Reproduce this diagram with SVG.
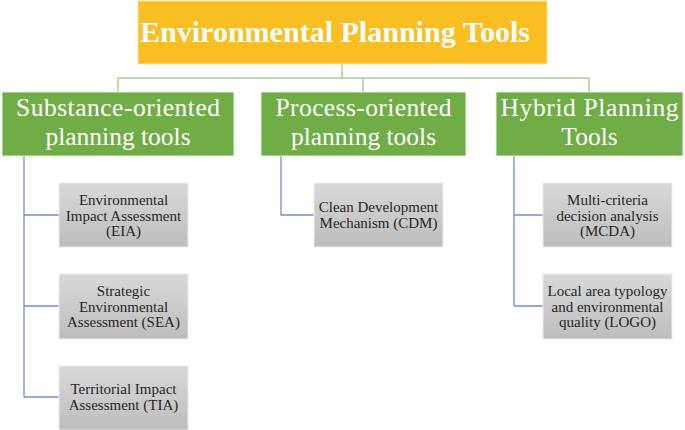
<svg xmlns="http://www.w3.org/2000/svg" width="685" height="430" viewBox="0 0 685 430">
<defs>
<linearGradient id="gray" x1="0" y1="0" x2="0" y2="1">
<stop offset="0" stop-color="#d8d8d8"/>
<stop offset="1" stop-color="#bdbdbd"/>
</linearGradient>
<style>
.title{font-family:"Liberation Serif","Times New Roman",serif;font-weight:bold;font-size:30px;fill:#ffffff}
.cat{font-family:"Liberation Serif","Times New Roman",serif;font-size:25.5px;fill:#ffffff;text-anchor:middle}
.leaf{font-family:"Liberation Serif","Times New Roman",serif;font-size:15px;fill:#262626;text-anchor:middle}
.gbox{fill:#70ad47;stroke:#e6f0de;stroke-width:1}
.lbox{fill:url(#gray);stroke:#ececec;stroke-width:1}
.gline{fill:none;stroke:#a9d18e;stroke-width:1.5}
.bline{fill:none;stroke:#6f8fd8;stroke-width:1.3}
</style>
</defs>
<rect width="685" height="430" fill="#ffffff"/>
<g id="connectors">
<path class="gline" d="M342 64 V78 M118 78 H589 M118 78 V92 M363 78 V92 M589 78 V92"/>
<path class="bline" d="M24 156 V397 M24 215 H59 M24 306 H59 M24 397 H59"/>
<path class="bline" d="M281 156 V215 H314"/>
<path class="bline" d="M514 156 V306 M514 215 H543 M514 306 H543"/>
</g>
<g id="root">
<rect x="138" y="1" width="409" height="63" fill="#f8be22" stroke="#fbe3a0" stroke-width="1"/>
<text class="title" x="140" y="42" textLength="390" lengthAdjust="spacing">Environmental Planning Tools</text>
</g>
<g id="substance">
<rect class="gbox" x="2" y="92" width="232" height="64"/>
<text class="cat" x="118" y="116" textLength="204" lengthAdjust="spacing">Substance-oriented</text>
<text class="cat" x="118" y="144.5">planning tools</text>
</g>
<g id="process">
<rect class="gbox" x="261" y="92" width="205" height="64"/>
<text class="cat" x="363.5" y="116" textLength="176" lengthAdjust="spacing">Process-oriented</text>
<text class="cat" x="363.5" y="144.5">planning tools</text>
</g>
<g id="hybrid">
<rect class="gbox" x="496" y="92" width="187" height="64"/>
<text class="cat" x="589.5" y="116" textLength="178" lengthAdjust="spacing">Hybrid Planning</text>
<text class="cat" x="589.5" y="144.5">Tools</text>
</g>
<g id="eia">
<rect class="lbox" x="59" y="183" width="129" height="64"/>
<text class="leaf" x="123.5" y="205">Environmental</text>
<text class="leaf" x="123.5" y="220.5">Impact Assessment</text>
<text class="leaf" x="123.5" y="236">(EIA)</text>
</g>
<g id="sea">
<rect class="lbox" x="59" y="274" width="129" height="65"/>
<text class="leaf" x="123.5" y="296">Strategic</text>
<text class="leaf" x="123.5" y="311.5">Environmental</text>
<text class="leaf" x="123.5" y="327">Assessment (SEA)</text>
</g>
<g id="tia">
<rect class="lbox" x="59" y="366" width="129" height="64"/>
<text class="leaf" x="123.5" y="394">Territorial Impact</text>
<text class="leaf" x="123.5" y="410">Assessment (TIA)</text>
</g>
<g id="cdm">
<rect class="lbox" x="314" y="183" width="129" height="64"/>
<text class="leaf" x="378.5" y="212">Clean Development</text>
<text class="leaf" x="378.5" y="228">Mechanism (CDM)</text>
</g>
<g id="mcda">
<rect class="lbox" x="543" y="183" width="129" height="64"/>
<text class="leaf" x="607.5" y="205">Multi-criteria</text>
<text class="leaf" x="607.5" y="220.5">decision analysis</text>
<text class="leaf" x="607.5" y="236">(MCDA)</text>
</g>
<g id="logo">
<rect class="lbox" x="543" y="274" width="129" height="65"/>
<text class="leaf" x="607.5" y="296">Local area typology</text>
<text class="leaf" x="607.5" y="311.5">and environmental</text>
<text class="leaf" x="607.5" y="327">quality (LOGO)</text>
</g>
</svg>
